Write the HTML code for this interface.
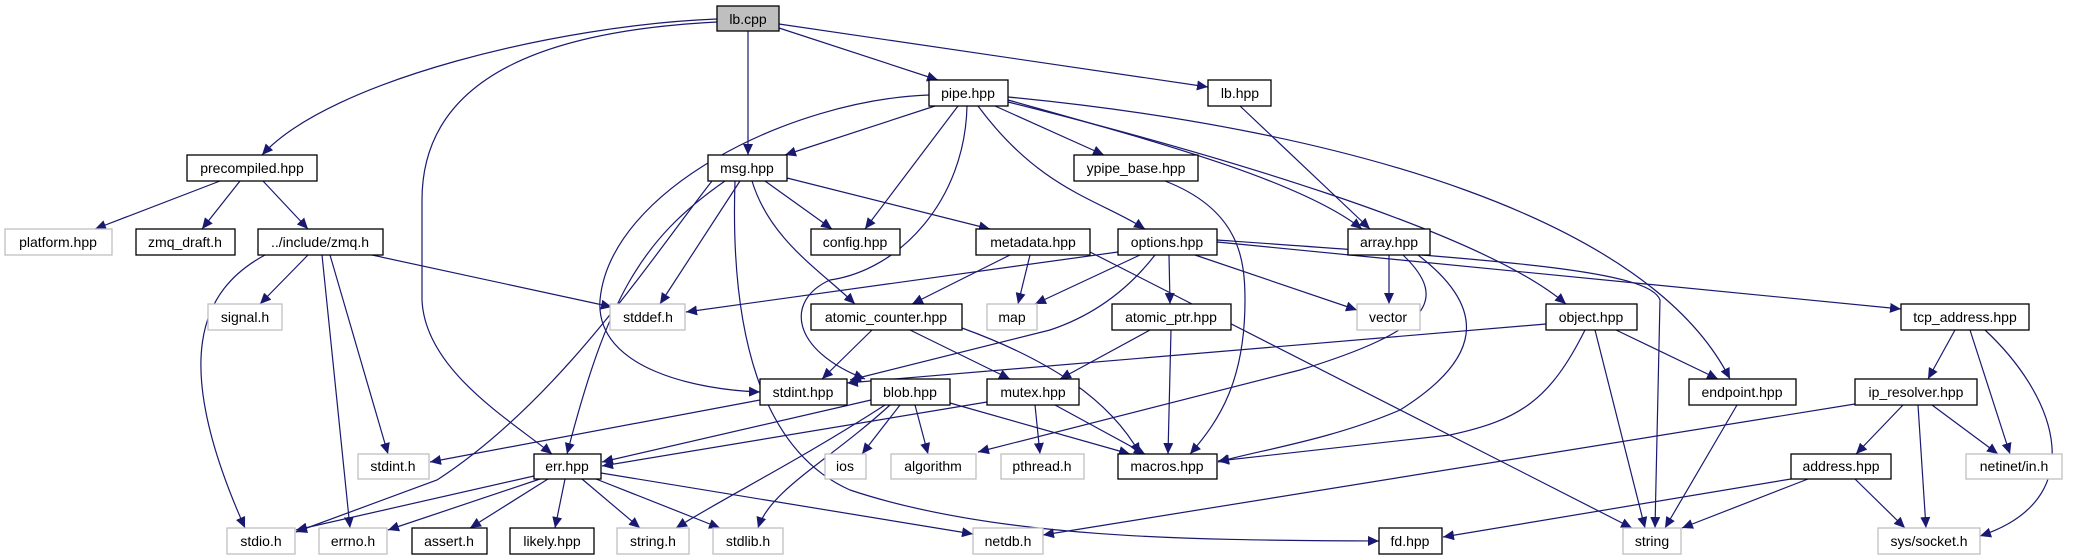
<!DOCTYPE html>
<html><head><meta charset="utf-8">
<style>
html,body{margin:0;padding:0;background:#fff;}
body{width:2090px;height:560px;overflow:hidden;position:relative;}
svg{position:absolute;left:0;top:0;}
text{font-family:"Liberation Sans",sans-serif;font-size:14px;fill:#000;}
</style></head><body>
<svg width="2090" height="560" viewBox="0 0 2090 560" xmlns="http://www.w3.org/2000/svg">
<defs>
<marker id="a" markerUnits="userSpaceOnUse" markerWidth="12" markerHeight="10" refX="11" refY="5" orient="auto">
<path d="M0,0 L11,5 L0,10 z" fill="#191970"/>
</marker>
</defs>
<g fill="none" stroke="#191970" stroke-width="1.2" marker-end="url(#a)">
<path d="M717,19 C560,25 330,80 262,155"/>
<path d="M717,22 C560,30 422,70 422,200 L422,300 C425,370 510,420 552,454"/>
<path d="M748,31 L748,155"/>
<path d="M779,28 L938,80"/>
<path d="M779,24 L1208,87"/>
<path d="M935,106 L785,155"/>
<path d="M958,106 L865,229"/>
<path d="M967,106 C965,200 900,270 830,280 C785,300 790,350 865,379"/>
<path d="M929,95 C790,100 610,190 600,300 C595,370 700,390 760,392"/>
<path d="M978,106 C1040,190 1100,200 1145,229"/>
<path d="M995,106 L1104,155"/>
<path d="M1008,100 C1150,140 1300,180 1362,229"/>
<path d="M1008,102 C1200,150 1480,230 1566,304"/>
<path d="M1008,97 C1350,130 1650,220 1730,379"/>
<path d="M1240,106 L1370,229"/>
<path d="M220,181 L95,229"/>
<path d="M240,181 L202,229"/>
<path d="M263,181 L308,229"/>
<path d="M372,255 L612,307"/>
<path d="M308,255 L260,304"/>
<path d="M265,255 C200,290 170,360 245,528"/>
<path d="M322,255 L350,528"/>
<path d="M330,255 L388,454"/>
<path d="M765,181 L832,229"/>
<path d="M787,178 L990,229"/>
<path d="M740,181 L660,304"/>
<path d="M752,181 C770,240 820,270 855,304"/>
<path d="M725,181 C640,240 607,300 567,454"/>
<path d="M712,181 C650,260 560,400 437,480 L296,532"/>
<path d="M735,181 C730,330 760,450 850,490 C1000,540 1200,540 1379,541"/>
<path d="M1010,255 L912,304"/>
<path d="M1030,255 L1018,304"/>
<path d="M1090,252 L1632,528"/>
<path d="M1118,252 L686,312"/>
<path d="M1140,255 L1035,304"/>
<path d="M1155,255 C1120,300 1080,320 1050,330 L850,380"/>
<path d="M1169,255 L1170,304"/>
<path d="M1195,255 L1357,310"/>
<path d="M1217,240 C1500,260 1650,270 1660,300 L1655,528"/>
<path d="M1217,242 L1901,309"/>
<path d="M1165,181 C1240,210 1245,260 1245,300 C1245,380 1220,420 1190,454"/>
<path d="M1389,255 L1389,304"/>
<path d="M1403,255 C1450,300 1430,330 1300,370 L978,452"/>
<path d="M1418,255 C1490,310 1480,360 1400,410 C1330,440 1260,450 1218,462"/>
<path d="M872,330 L822,379"/>
<path d="M910,330 L1010,379"/>
<path d="M962,328 C1050,360 1110,400 1140,454"/>
<path d="M1150,330 L1060,379"/>
<path d="M1171,330 L1168,454"/>
<path d="M1546,324 L847,383"/>
<path d="M1616,330 L1718,379"/>
<path d="M1585,330 C1550,400 1520,420 1450,435 L1218,461"/>
<path d="M1595,330 L1645,528"/>
<path d="M1955,330 L1928,379"/>
<path d="M1970,330 L2010,454"/>
<path d="M1985,330 C2060,400 2090,500 1980,536"/>
<path d="M760,400 L430,462"/>
<path d="M871,400 L602,462"/>
<path d="M987,402 L602,466"/>
<path d="M900,405 L862,454"/>
<path d="M915,405 L928,454"/>
<path d="M950,403 L1130,454"/>
<path d="M885,405 C800,460 720,500 676,528"/>
<path d="M890,405 C830,460 770,490 758,528"/>
<path d="M1035,405 L1040,454"/>
<path d="M1055,405 L1145,454"/>
<path d="M1737,405 L1665,528"/>
<path d="M1855,404 L1043,535"/>
<path d="M1903,405 L1856,454"/>
<path d="M1918,405 L1926,528"/>
<path d="M1932,405 L1998,454"/>
<path d="M1791,479 L1443,537"/>
<path d="M1808,479 L1682,528"/>
<path d="M1855,479 L1905,528"/>
<path d="M534,476 L296,530"/>
<path d="M540,479 L388,530"/>
<path d="M548,479 L470,528"/>
<path d="M565,479 L555,528"/>
<path d="M582,479 L640,528"/>
<path d="M596,479 L720,528"/>
<path d="M601,473 L973,534"/>
</g>
<g stroke-width="1.3">
<g fill="#fff" stroke="#000">
<rect x="717" y="6" width="62" height="25" fill="#bfbfbf"/>
<rect x="929" y="80" width="79" height="26"/>
<rect x="1208" y="80" width="63" height="26"/>
<rect x="187" y="155" width="130" height="26"/>
<rect x="708" y="155" width="79" height="26"/>
<rect x="1074" y="155" width="124" height="26"/>
<rect x="136" y="229" width="99" height="26"/>
<rect x="258" y="229" width="125" height="26"/>
<rect x="811" y="229" width="89" height="26"/>
<rect x="976" y="229" width="114" height="26"/>
<rect x="1118" y="229" width="99" height="26"/>
<rect x="1348" y="229" width="82" height="26"/>
<rect x="811" y="304" width="151" height="26"/>
<rect x="1112" y="304" width="119" height="26"/>
<rect x="1546" y="304" width="91" height="26"/>
<rect x="1901" y="304" width="128" height="26"/>
<rect x="760" y="379" width="87" height="26"/>
<rect x="871" y="379" width="79" height="26"/>
<rect x="987" y="379" width="92" height="26"/>
<rect x="1689" y="379" width="107" height="26"/>
<rect x="1855" y="379" width="122" height="26"/>
<rect x="534" y="454" width="67" height="25"/>
<rect x="1118" y="454" width="99" height="25"/>
<rect x="1791" y="454" width="100" height="25"/>
<rect x="412" y="528" width="75" height="26"/>
<rect x="510" y="528" width="84" height="26"/>
<rect x="1379" y="528" width="63" height="26"/>
</g>
<g fill="#fff" stroke="#bfbfbf">
<rect x="5" y="229" width="107" height="26"/>
<rect x="208" y="304" width="74" height="26"/>
<rect x="610" y="304" width="75" height="26"/>
<rect x="987" y="304" width="50" height="26"/>
<rect x="1357" y="304" width="63" height="26"/>
<rect x="358" y="454" width="71" height="25"/>
<rect x="825" y="454" width="41" height="25"/>
<rect x="891" y="454" width="85" height="25"/>
<rect x="1001" y="454" width="83" height="25"/>
<rect x="1966" y="454" width="96" height="25"/>
<rect x="227" y="528" width="68" height="26"/>
<rect x="319" y="528" width="68" height="26"/>
<rect x="617" y="528" width="72" height="26"/>
<rect x="713" y="528" width="70" height="26"/>
<rect x="973" y="528" width="70" height="26"/>
<rect x="1623" y="528" width="58" height="26"/>
<rect x="1878" y="528" width="102" height="26"/>
</g>
</g>
<g text-anchor="middle">
<text x="748" y="24">lb.cpp</text>
<text x="968" y="98">pipe.hpp</text>
<text x="1240" y="98">lb.hpp</text>
<text x="252" y="173">precompiled.hpp</text>
<text x="747" y="173">msg.hpp</text>
<text x="1136" y="173">ypipe_base.hpp</text>
<text x="58" y="247">platform.hpp</text>
<text x="185" y="247">zmq_draft.h</text>
<text x="320" y="247">../include/zmq.h</text>
<text x="855" y="247">config.hpp</text>
<text x="1033" y="247">metadata.hpp</text>
<text x="1167" y="247">options.hpp</text>
<text x="1389" y="247">array.hpp</text>
<text x="245" y="322">signal.h</text>
<text x="648" y="322">stddef.h</text>
<text x="886" y="322">atomic_counter.hpp</text>
<text x="1012" y="322">map</text>
<text x="1171" y="322">atomic_ptr.hpp</text>
<text x="1388" y="322">vector</text>
<text x="1591" y="322">object.hpp</text>
<text x="1965" y="322">tcp_address.hpp</text>
<text x="803" y="397">stdint.hpp</text>
<text x="910" y="397">blob.hpp</text>
<text x="1033" y="397">mutex.hpp</text>
<text x="1742" y="397">endpoint.hpp</text>
<text x="1916" y="397">ip_resolver.hpp</text>
<text x="393" y="471">stdint.h</text>
<text x="567" y="471">err.hpp</text>
<text x="845" y="471">ios</text>
<text x="933" y="471">algorithm</text>
<text x="1042" y="471">pthread.h</text>
<text x="1167" y="471">macros.hpp</text>
<text x="1841" y="471">address.hpp</text>
<text x="2014" y="471">netinet/in.h</text>
<text x="261" y="546">stdio.h</text>
<text x="353" y="546">errno.h</text>
<text x="449" y="546">assert.h</text>
<text x="552" y="546">likely.hpp</text>
<text x="653" y="546">string.h</text>
<text x="748" y="546">stdlib.h</text>
<text x="1008" y="546">netdb.h</text>
<text x="1410" y="546">fd.hpp</text>
<text x="1652" y="546">string</text>
<text x="1929" y="546">sys/socket.h</text>
</g>
</svg>
</body></html>
